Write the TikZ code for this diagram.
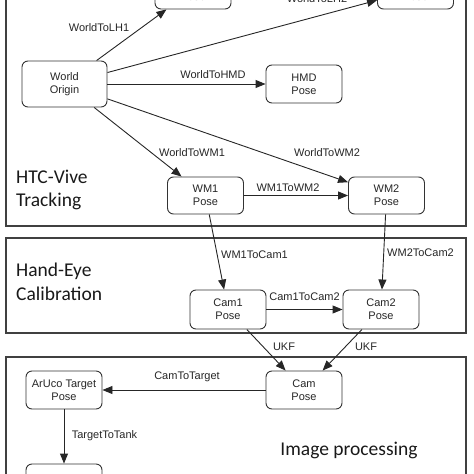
\documentclass[tikz,border=0pt]{standalone}
\usepackage{fontspec}
\setmainfont{Liberation Sans}
\newfontfamily\calfont{Carlito}
\usetikzlibrary{arrows.meta}
\begin{document}
\begin{tikzpicture}[x=1pt,y=-1pt,
 pose/.style={draw=black!80, line width=0.9pt, rounded corners=6pt, minimum width=76pt, minimum height=38pt, align=center, font=\fontsize{11}{13}\selectfont, inner sep=0pt, text=black!85},
 lab/.style={font=\fontsize{11}{12}\selectfont, inner sep=0pt, text=black!85},
 arr/.style={-{Triangle[length=10pt,width=8pt]}, line width=0.9pt, draw=black!85},
 region/.style={draw=black!75, line width=1.3pt},
 big/.style={font=\calfont\fontsize{19.5}{23.5}\selectfont, align=left, anchor=west, inner sep=0pt, text=black!90}]
\useasboundingbox (0,0) rectangle (474,474);
\begin{scope}
\clip (0,0) rectangle (474,474);
% regions
\draw[region] (6,-10) rectangle (466,226);
\draw[region] (6,238) rectangle (466,333);
\draw[region] (6,357) rectangle (466,490);
% nodes
\node[pose] (lh1) at (193,-10) {LH1\\Pose};
\node[pose] (lh2) at (415.5,-10) {LH2\\Pose};
\node[pose, minimum width=85pt, minimum height=46pt] (world) at (64.5,84) {World\\Origin};
\node[pose] (hmd) at (304,84) {HMD\\Pose};
\node[pose, minimum height=37pt] (wm1) at (205.5,195.5) {WM1\\Pose};
\node[pose, minimum height=37pt] (wm2) at (386.5,195.5) {WM2\\Pose};
\node[pose, minimum height=39pt] (cam1) at (228,309.5) {Cam1\\Pose};
\node[pose, minimum height=39pt] (cam2) at (381,309.5) {Cam2\\Pose};
\node[pose] (cam) at (304,390) {Cam\\Pose};
\node[pose] (aruco) at (64,390) {ArUco Target\\Pose};
\node[pose] (tank) at (64,483) {};
% connectors
\draw[arr] (world) -- (lh1);
\draw[arr] (world) -- (lh2);
\draw[arr] (world) -- (hmd);
\draw[arr] (world) -- (wm1);
\draw[arr] (world) -- (wm2);
\draw[arr] (wm1) -- (wm2);
\draw[arr] (wm1) -- (cam1);
\draw[arr] (wm2) -- (cam2);
\draw[arr] (cam1) -- (cam2);
\draw[arr] (cam1) -- (cam);
\draw[arr] (cam2) -- (cam);
\draw[arr] (cam) -- (aruco);
\draw[arr] (aruco) -- (tank);
% labels
\node[lab] (l1) at (99,28) {WorldToLH1};
\node[lab] (l2) at (317,-1) {WorldToLH2};
\node[lab] (l3) at (213,75) {WorldToHMD};
\node[lab] (l4) at (192,153) {WorldToWM1};
\node[lab] (l5) at (327,153) {WorldToWM2};
\node[lab] (l6) at (288,188) {WM1ToWM2};
\node[lab, anchor=west] (l7) at (221,255) {WM1ToCam1};
\node[lab, anchor=west] (l8) at (387,253) {WM2ToCam2};
\node[lab] (l9) at (304.5,297) {Cam1ToCam2};
\node[lab] (l10) at (284,347) {UKF};
\node[lab] (l11) at (366,347) {UKF};
\node[lab] (l12) at (187,377) {CamToTarget};
\node[lab] (l13) at (104.5,436) {TargetToTank};
% region titles
\node[big] (t1) at (16,190) {HTC-Vive\\Tracking};
\node[big] (t2) at (16,282) {Hand-Eye\\Calibration};
\node[big, anchor=center] (t3) at (349,450) {Image processing};
\end{scope}
\end{tikzpicture}
\end{document}
